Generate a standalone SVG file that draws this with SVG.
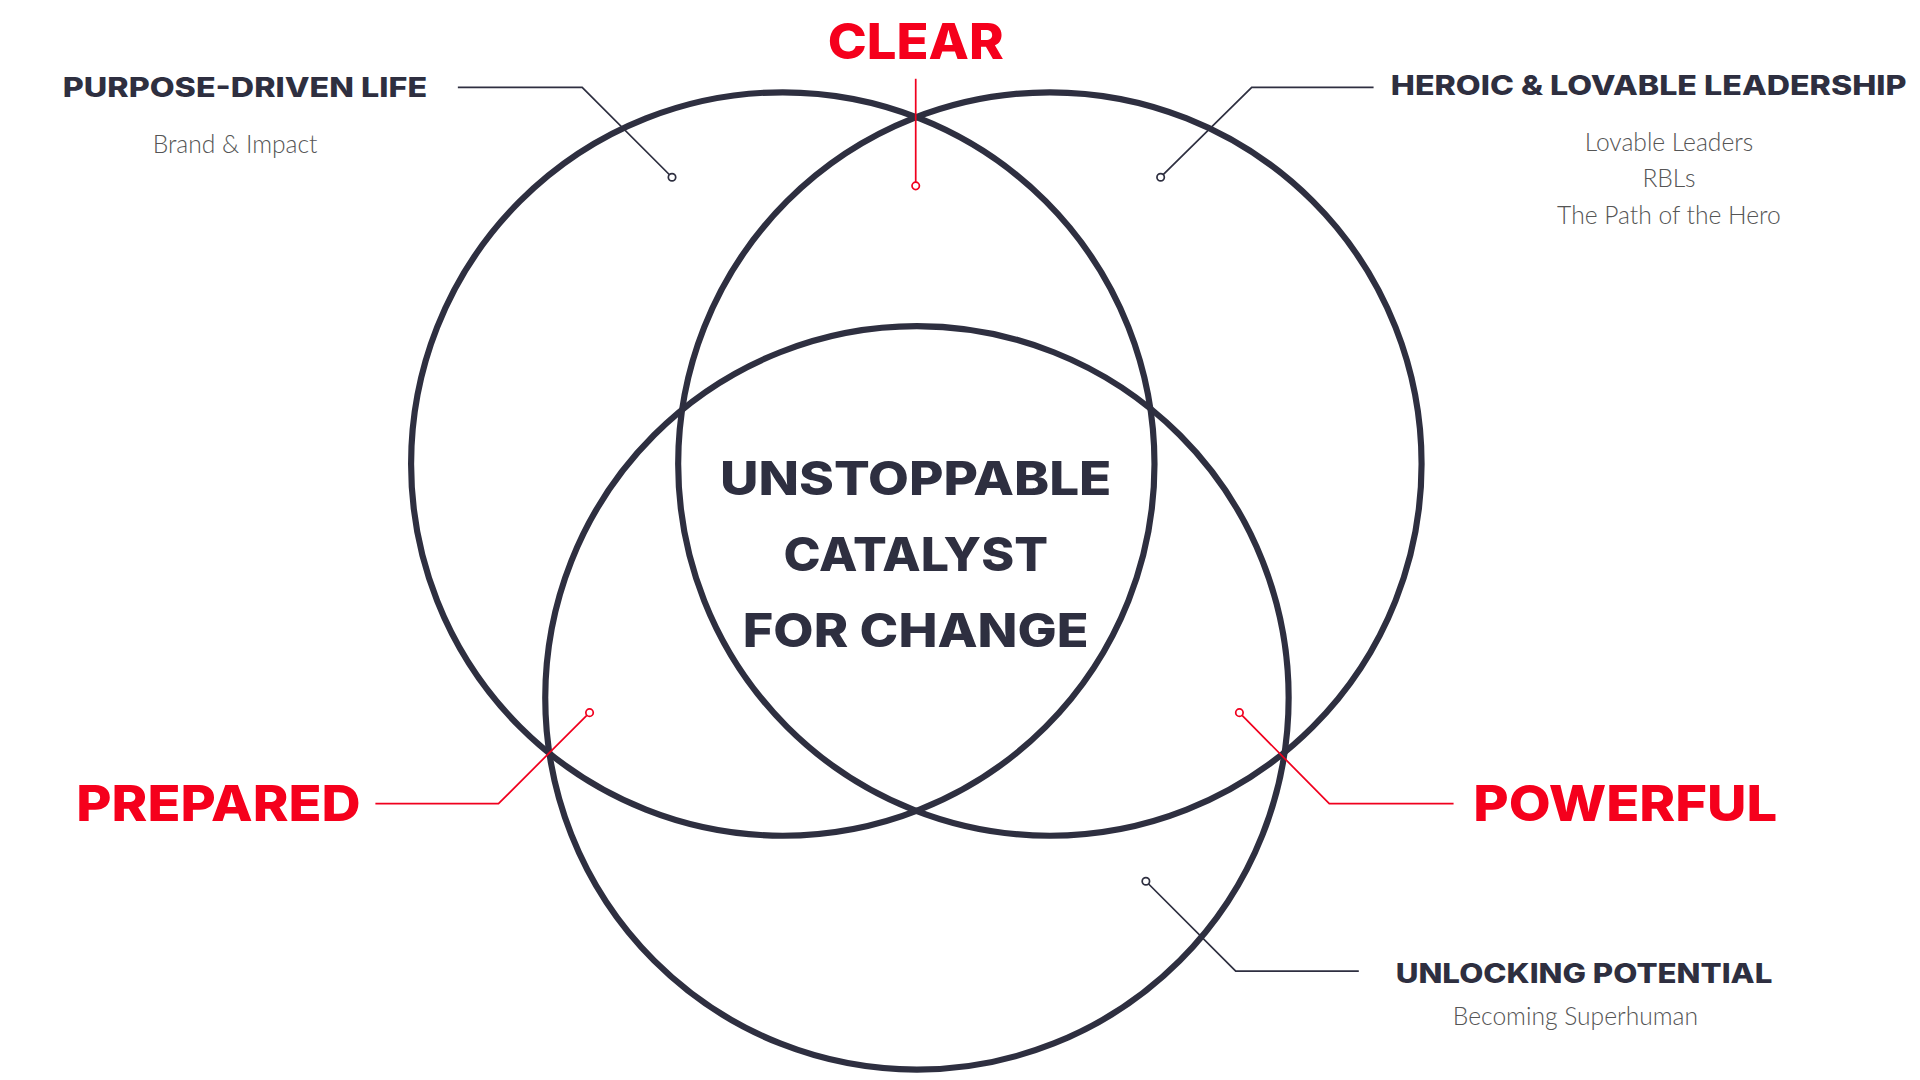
<svg xmlns="http://www.w3.org/2000/svg" width="1920" height="1080" viewBox="0 0 1920 1080">
<style>
.c{fill:none;stroke:#2e2f40;stroke-width:5}
.h{font-family:Inter,"Noto Sans",sans-serif;font-weight:800;fill:#2e2f40}
.r{font-family:Inter,"Noto Sans",sans-serif;font-weight:800;fill:#f5001c}
.s{font-family:Lato,"Open Sans",sans-serif;font-weight:300;fill:#555;font-size:20px;text-anchor:middle}
.ld{fill:none;stroke:#2e2f40;stroke-width:1.4}
.lr{fill:none;stroke:#f0001e;stroke-width:1.4}
.dd{fill:#fff;stroke:#2e2f40;stroke-width:1.4}
.dr{fill:#fff;stroke:#f0001e;stroke-width:1.4}
</style>
<rect width="1920" height="1080" fill="#fff"/>
<g transform="scale(1.2308)">
<g id="circle-left"><circle class="c" cx="636" cy="377" r="302"/></g>
<g id="circle-right"><circle class="c" cx="853" cy="377" r="302"/></g>
<g id="circle-bottom"><circle class="c" cx="745" cy="567" r="302"/></g>
<g id="connectors">
<polyline class="ld" points="372,71 473,71 546,144"/><circle class="dd" cx="546" cy="144" r="3"/>
<polyline class="ld" points="1116,71 1017,71 943,144"/><circle class="dd" cx="943" cy="144" r="3"/>
<polyline class="lr" points="744,64 744,151"/><circle class="dr" cx="744" cy="151" r="3"/>
<polyline class="lr" points="305,653 405,653 479,579"/><circle class="dr" cx="479" cy="579" r="3"/>
<polyline class="lr" points="1181,653 1080,653 1007,579"/><circle class="dr" cx="1007" cy="579" r="3"/>
<polyline class="ld" points="1104,789 1004,789 931,716"/><circle class="dd" cx="931" cy="716" r="3"/>
</g>
<g id="clear"><text class="r" x="744" y="48" font-size="40" text-anchor="middle" textLength="143" lengthAdjust="spacingAndGlyphs">CLEAR</text></g>
<g id="purpose"><text class="h" x="51" y="79" font-size="22" textLength="296" lengthAdjust="spacingAndGlyphs">PURPOSE-DRIVEN LIFE</text>
<text class="s" x="191" y="124">Brand &amp; Impact</text></g>
<g id="heroic"><text class="h" x="1130" y="77" font-size="22" textLength="419" lengthAdjust="spacingAndGlyphs">HEROIC &amp; LOVABLE LEADERSHIP</text>
<text class="s" x="1356" y="123">Lovable Leaders</text>
<text class="s" x="1356" y="152">RBLs</text>
<text class="s" x="1356" y="182">The Path of the Hero</text></g>
<g id="center">
<text class="h" x="744" y="402" font-size="38" text-anchor="middle" textLength="318" lengthAdjust="spacingAndGlyphs">UNSTOPPABLE</text>
<text class="h" x="744" y="464" font-size="38" text-anchor="middle" textLength="215" lengthAdjust="spacingAndGlyphs">CATALYST</text>
<text class="h" x="744" y="526" font-size="38" text-anchor="middle" textLength="281" lengthAdjust="spacingAndGlyphs">FOR CHANGE</text></g>
<g id="prepared"><text class="r" x="62" y="667" font-size="40" textLength="231" lengthAdjust="spacingAndGlyphs">PREPARED</text></g>
<g id="powerful"><text class="r" x="1197" y="667" font-size="40" textLength="247" lengthAdjust="spacingAndGlyphs">POWERFUL</text></g>
<g id="unlocking"><text class="h" x="1134" y="799" font-size="22" textLength="306" lengthAdjust="spacingAndGlyphs">UNLOCKING POTENTIAL</text>
<text class="s" x="1280" y="833">Becoming Superhuman</text></g>
</g>
</svg>
